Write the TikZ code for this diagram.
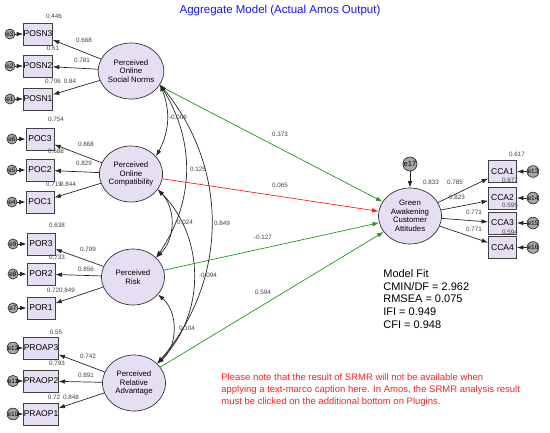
\documentclass[tikz,border=0pt]{standalone}
\usepackage{fontspec}
\setmainfont{Liberation Sans}
\usetikzlibrary{shapes.geometric,arrows.meta}
\definecolor{lav}{RGB}{230,222,243}
\definecolor{pathgreen}{RGB}{30,150,30}
\definecolor{pathred}{RGB}{255,30,30}
\definecolor{titleblue}{RGB}{20,20,255}

\begin{document}
\begin{tikzpicture}[x=1pt,y=-1pt,>={Latex[length=6.5pt,width=4.5pt]},line width=0.7pt,
    obs/.style={draw=black!75,fill=lav,minimum width=28pt,minimum height=22pt,inner sep=0pt,font=\fontsize{8.5}{9}\selectfont},
    lat/.style={ellipse,draw=black!80,fill=lav,minimum width=63pt,minimum height=56pt,inner sep=0pt,align=center,font=\fontsize{7.8}{8.6}\selectfont},
    err/.style={circle,draw=black!80,fill=black!35,minimum size=10pt,inner sep=0pt,font=\fontsize{6.5}{7}\selectfont},
    num/.style={inner sep=0pt,text=black!75,font=\fontsize{6.3}{7}\selectfont},
    load/.style={->,black!85},
    cov/.style={<->,black!85}]
\useasboundingbox (0,0) rectangle (550,432);
\node [text=titleblue,font=\fontsize{11.5}{12}\selectfont] (title) at (280,11) {Aggregate Model (Actual Amos Output)};
% latent variables
\node [lat] (psn) at (131,71) {Perceived\\Online\\Social Norms};
\node [lat] (poc) at (131,174) {Perceived\\Online\\Compatibility};
\node [lat] (pr) at (133,277) {Perceived\\Risk};
\node [lat] (pra) at (134,383) {Perceived\\Relative\\Advantage};
\node [lat] (gaca) at (410,216) {Green\\Awakening\\Customer\\Attitudes};
% indicators on the left
\foreach \name/\txt/\x/\y/\e/\f in {posn3/POSN3/38/34/e3/psn, posn2/POSN2/38/66/e2/psn, posn1/POSN1/38/99/e1/psn,
    poc3/POC3/40/139/e6/poc, poc2/POC2/40/170/e5/poc, poc1/POC1/40/202/e4/poc,
    por3/POR3/41/244/e9/pr, por2/POR2/41/274/e8/pr, por1/POR1/41/308/e7/pr,
    praop3/PROAP3/41/348/e12/pra, praop2/PRAOP2/41/381/e11/pra, praop1/PRAOP1/41/414/e10/pra}
{
  \node [obs] (\name) at (\x,\y) {\txt};
  \node [err] (\e) at (\x-28,\y) {\e};
  \draw [load] (\e) -- (\name);
  \draw [load] (\f) -- (\name);
}
% indicators on the right
\foreach \name/\txt/\y/\e in {cca1/CCA1/171.5/e13, cca2/CCA2/198/e14, cca3/CCA3/223/e15, cca4/CCA4/247.5/e16}
{
  \node [obs] (\name) at (502.5,\y) {\txt};
  \node [err] (\e) at (533,\y) {\e};
  \draw [load] (\e) -- (\name);
  \draw [load] (gaca) -- (\name);
}
\node [err,minimum size=14pt,font=\fontsize{7.5}{8}\selectfont] (e17) at (410,164) {e17};
\draw [load] (e17) -- (gaca);
% structural paths
\draw [->,pathgreen] (psn) -- (gaca);
\draw [->,pathred] (poc) -- (gaca);
\draw [->,pathgreen] (pr) -- (gaca);
\draw [->,pathgreen] (pra) -- (gaca);
% covariances
\draw [cov] (psn.-25) to[bend left=25] (poc.35);
\draw [cov] (psn.-25) to[bend left=33] (pr.40);
\draw [cov] (psn.-25) to[bend left=40] (pra.40);
\draw [cov] (poc.-30) to[bend left=45] (pr.40);
\draw [cov] (poc.-30) to[bend left=45] (pra.40);
\draw [cov] (pr.-35) to[bend left=50] (pra.40);
% estimates
\foreach \pos/\val in {(54,16)/0.446, (84,40)/0.668, (53,48)/0.61, (82,60)/0.781, (53,81)/0.706, (70,81)/0.84,
    (56,119)/0.754, (86,144)/0.868, (56,151)/0.688, (84,163)/0.829, (54,184)/0.719, (68,184)/0.844,
    (57,225)/0.638, (88,249)/0.799, (57,257)/0.733, (86,269)/0.856, (53,290)/0.72, (67,290)/0.849,
    (56,332)/0.55, (88,356)/0.742, (57,363)/0.793, (86,375)/0.891, (54,397)/0.72, (71,397)/0.848,
    (517,154)/0.617, (510,180)/0.677, (510,205)/0.595, (510,232)/0.594,
    (431,182)/0.833, (455,182)/0.785, (457,197)/0.823, (474,212)/0.771, (474,229)/0.771,
    (280,134)/0.373, (280,185)/0.065, (263,237)/-0.127, (263,292)/0.594,
    (178,117)/-0.006, (198,169)/0.125, (222,223)/0.849, (185,222)/0.024, (208,275)/-0.094, (187,328)/0.104}
  \node [num] at \pos {\val};
% fit indices and note
\node [anchor=north west,inner sep=0pt,align=left,font=\fontsize{11}{12.8}\selectfont] (fit) at (383,269)
  {Model Fit\\CMIN/DF = 2.962\\RMSEA = 0.075\\IFI = 0.949\\CFI = 0.948};
\node [anchor=north west,inner sep=0pt,align=left,text=pathred,font=\fontsize{9.5}{12.2}\selectfont] (note) at (221,373)
  {Please note that the result of SRMR will not be available when\\applying a text-marco caption here. In Amos, the SRMR analysis result\\must be clicked on the additional bottom on Plugins.};
\end{tikzpicture}
\end{document}
